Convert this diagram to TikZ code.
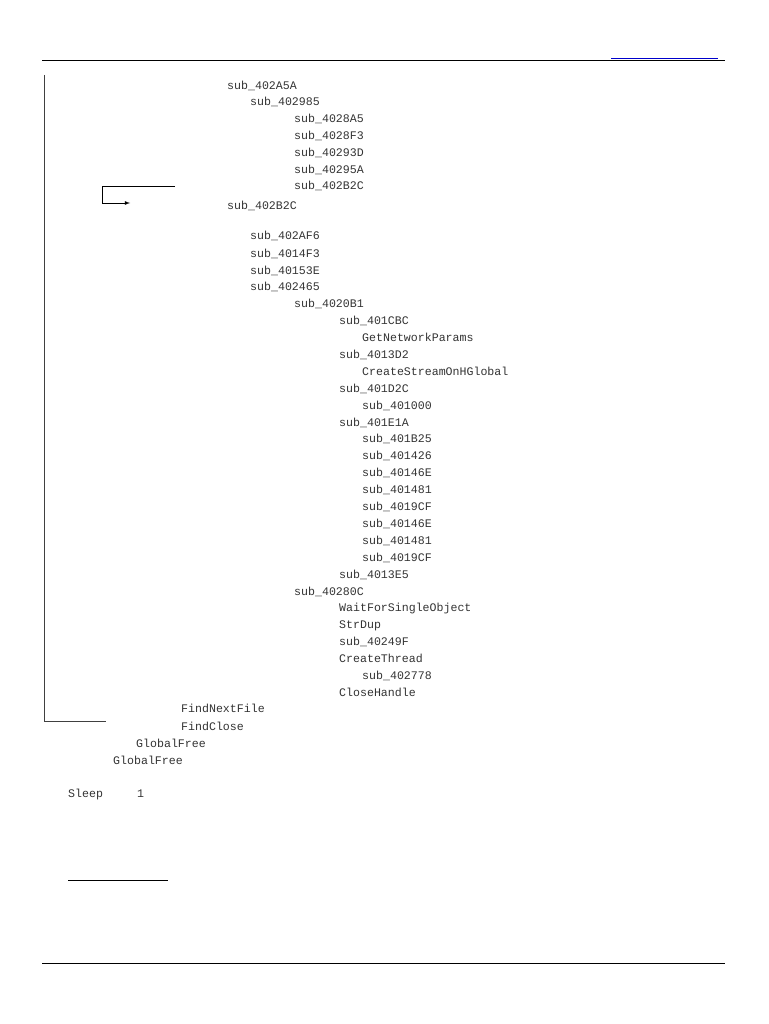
\documentclass[tikz,border=0pt]{standalone}
\usepackage{fontspec}
\setmonofont{Liberation Mono}
\begin{document}
\begin{tikzpicture}[x=1pt,y=-1pt,
  t/.style={anchor=base west,inner sep=0pt,font=\ttfamily\fontsize{11.6}{12}\selectfont,text=black!80},
  rule/.style={line width=0.8pt,black}]
\useasboundingbox (0,0) rectangle (768,1024);
\draw[rule] (42,60) -- (725,60);
\draw[blue!80!black,line width=0.8pt] (611,58) -- (718,58);
\draw[rule] (42,963) -- (725,963);
\draw[black,line width=0.7pt] (68,880) -- (168,880);
\foreach \x/\y/\s [count=\i] in {
227/90/sub\_402A5A, 250/106/sub\_402985, 294/123/sub\_4028A5, 294/140/sub\_4028F3,
294/157/sub\_40293D, 294/174/sub\_40295A, 294/190/sub\_402B2C, 227/210/sub\_402B2C,
250/240/sub\_402AF6, 250/257/sub\_4014F3, 250/274/sub\_40153E, 250/290/sub\_402465,
294/307/sub\_4020B1, 339/324/sub\_401CBC, 362/341/GetNetworkParams, 339/358/sub\_4013D2,
362/375/CreateStreamOnHGlobal, 339/392/sub\_401D2C, 362/409/sub\_401000, 339/426/sub\_401E1A,
362/442/sub\_401B25, 362/459/sub\_401426, 362/476/sub\_40146E, 362/493/sub\_401481,
362/510/sub\_4019CF, 362/527/sub\_40146E, 362/544/sub\_401481, 362/561/sub\_4019CF,
339/578/sub\_4013E5, 294/595/sub\_40280C, 339/611/WaitForSingleObject, 339/628/StrDup,
339/645/sub\_40249F, 339/662/CreateThread, 362/679/sub\_402778, 339/696/CloseHandle,
181/712/FindNextFile, 181/730/FindClose, 136/747/GlobalFree, 113/764/GlobalFree,
68/797/Sleep, 137/797/1}
  \node[t] (n\i) at (\x,\y) {\s};
\coordinate (a1) at (175,186);
\coordinate (a2) at (130,203);
\draw[line width=0.8pt,-latex] (a1) -- (102,186) -- (102,203) -- (a2);
\coordinate (l1) at (44,75);
\coordinate (l2) at (106,721);
\draw[line width=1pt,black!75] (l1) |- (l2);
\end{tikzpicture}
\end{document}
